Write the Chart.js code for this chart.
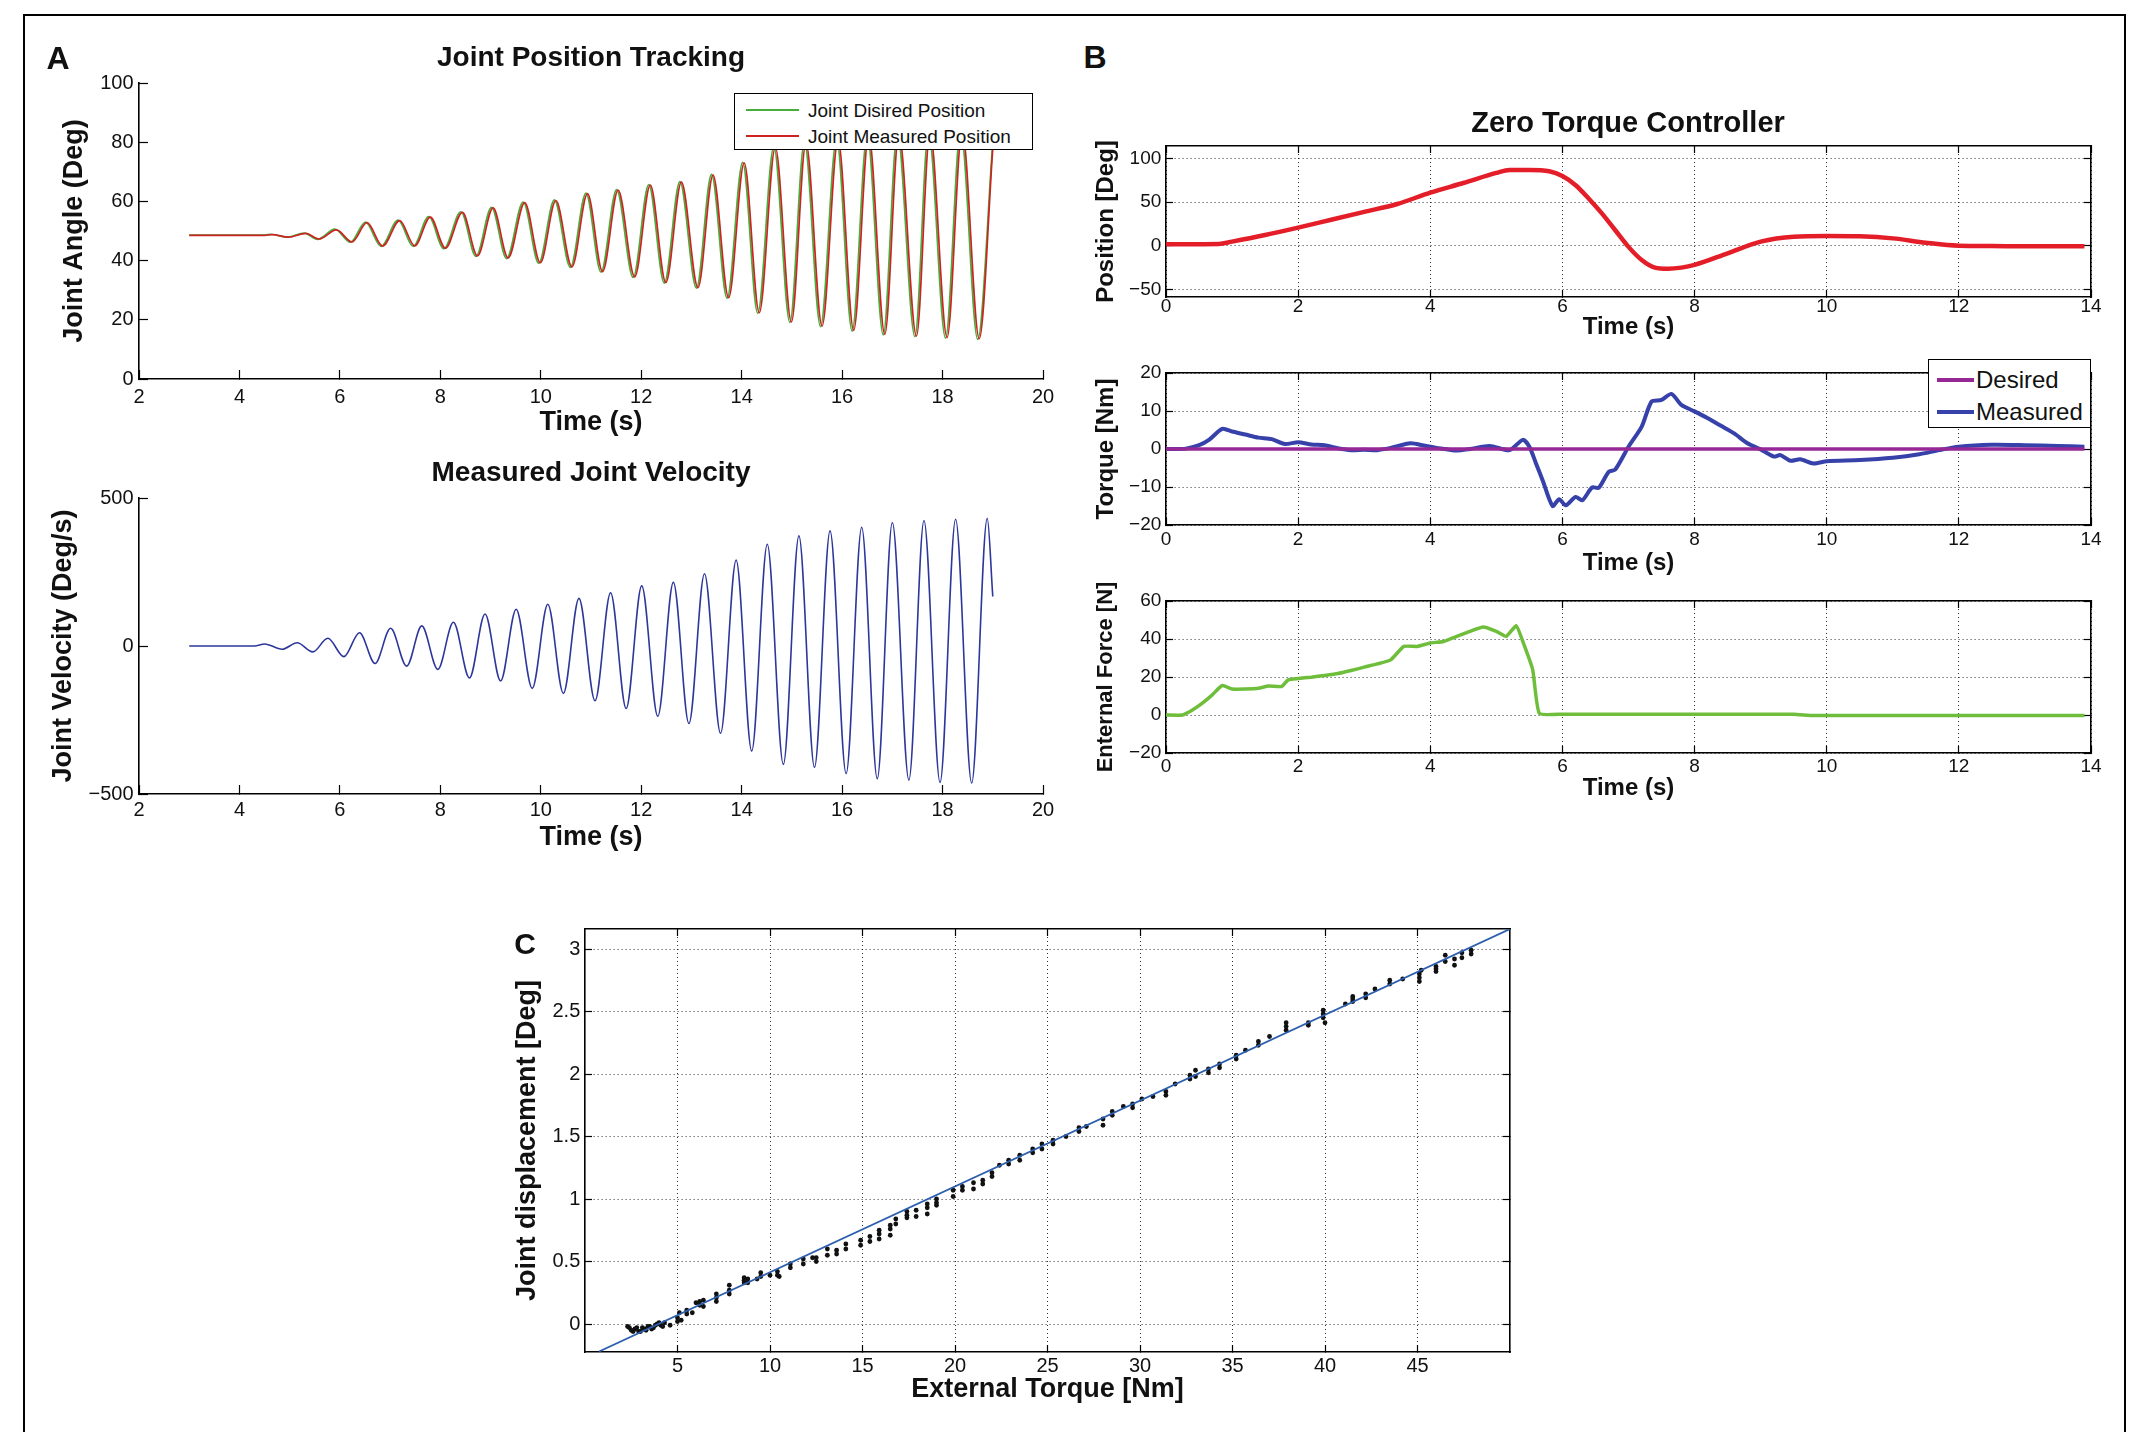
<!DOCTYPE html>
<html>
<head>
<meta charset="utf-8">
<script src="https://cdn.jsdelivr.net/npm/chart.js@4.4.1/dist/chart.umd.min.js"></script>
<style>
  html, body { margin: 0; padding: 0; background: #fff; }
  body { width: 2139px; height: 1432px; position: relative; overflow: hidden;
         font-family: "Liberation Sans", Arial, sans-serif; color: #111; }
  canvas { position: absolute; z-index: 1; }
  .frame { position: absolute; left: 23px; top: 14px; width: 2103px; height: 1500px;
           border: 2px solid #000; border-bottom: none; box-sizing: border-box; }
  .txt { position: absolute; transform: translate(-50%, -50%); white-space: nowrap;
         font-weight: bold; line-height: 1; z-index: 3; }
  .legend { position: absolute; background: #fff; border: 1.5px solid #000; z-index: 2; box-sizing: border-box; }
  .legend .sw { position: absolute; }
  .legend .lb { position: absolute; transform: translateY(-50%); white-space: nowrap; line-height: 1; }
</style>
</head>
<body>
<div class="frame"></div>

<div class="txt" style="left:58px;top:58px;font-size:32px;">A</div>
<div class="txt" style="left:591px;top:57px;font-size:28px;">Joint Position Tracking</div>
<div class="txt" style="left:591px;top:472px;font-size:28px;">Measured Joint Velocity</div>
<div class="txt" style="left:1095px;top:57px;font-size:32px;">B</div>
<div class="txt" style="left:1628px;top:122px;font-size:29px;">Zero Torque Controller</div>
<div class="txt" style="left:525px;top:944px;font-size:30px;">C</div>

<div class="legend" style="left:734px;top:93px;width:299px;height:57px;">
  <div class="sw" style="left:11px;top:15px;width:53px;height:1.5px;background:rgb(70,175,60);"></div>
  <div class="lb" style="left:73px;top:16px;font-size:19px;">Joint Disired Position</div>
  <div class="sw" style="left:11px;top:41px;width:53px;height:1.5px;background:rgb(205,35,35);"></div>
  <div class="lb" style="left:73px;top:42px;font-size:19px;">Joint Measured Position</div>
</div>

<div class="legend" style="left:1928px;top:359px;width:163px;height:69px;">
  <div class="sw" style="left:8px;top:18px;width:37px;height:4px;background:rgb(150,40,150);"></div>
  <div class="lb" style="left:47px;top:20px;font-size:24px;">Desired</div>
  <div class="sw" style="left:8px;top:50px;width:37px;height:4px;background:rgb(55,65,170);"></div>
  <div class="lb" style="left:47px;top:52px;font-size:24px;">Measured</div>
</div>

<canvas id="cPos"></canvas>
<canvas id="cVel"></canvas>
<canvas id="cBPos"></canvas>
<canvas id="cTorque"></canvas>
<canvas id="cForce"></canvas>
<canvas id="cFit"></canvas>

<script>
// ---------- A: joint position tracking (extrema) ----------
const posDesTime = [3.0, 4.5, 4.62, 4.95, 5.29, 5.56, 5.9, 6.21, 6.51, 6.82, 7.16, 7.46, 7.77, 8.07, 8.41, 8.71, 9.02, 9.32, 9.65, 9.96, 10.27, 10.59, 10.9, 11.2, 11.51, 11.84, 12.15, 12.46, 12.77, 13.1, 13.4, 13.71, 14.02, 14.32, 14.64, 14.96, 15.25, 15.57, 15.89, 16.2, 16.5, 16.82, 17.1, 17.45, 17.72, 18.06, 18.36, 18.7, 19.0];
const posDesired = [48.6, 48.6, 48.9, 47.9, 49.3, 47.2, 50.6, 46.2, 53.0, 44.8, 53.7, 44.8, 54.9, 44.0, 56.5, 41.4, 58.0, 40.7, 59.8, 39.1, 60.5, 37.7, 62.8, 36.1, 64.0, 34.3, 65.7, 32.4, 66.7, 30.7, 69.1, 27.3, 73.2, 22.2, 78.5, 19.1, 80.0, 17.7, 81.0, 16.2, 82.5, 14.9, 83.0, 14.3, 83.5, 13.8, 84.0, 13.4, 80.0];
const posMeasTime = [3.0, 4.5, 4.65, 4.98, 5.32, 5.59, 5.93, 6.24, 6.54, 6.85, 7.19, 7.49, 7.8, 8.1, 8.44, 8.74, 9.05, 9.35, 9.68, 9.99, 10.3, 10.62, 10.93, 11.23, 11.54, 11.87, 12.18, 12.49, 12.8, 13.13, 13.43, 13.74, 14.05, 14.35, 14.67, 14.99, 15.28, 15.6, 15.92, 16.23, 16.53, 16.85, 17.13, 17.48, 17.75, 18.09, 18.39, 18.73, 19.0];
const posMeasured = [48.5, 48.5, 48.8, 47.9, 49.2, 47.3, 50.4, 46.3, 52.8, 44.9, 53.5, 45.0, 54.7, 44.2, 56.3, 41.6, 57.8, 40.9, 59.6, 39.3, 60.3, 37.9, 62.6, 36.3, 63.8, 34.5, 65.5, 32.6, 66.5, 30.9, 68.9, 27.5, 73.0, 22.4, 78.3, 19.3, 79.8, 17.9, 80.8, 16.4, 82.3, 15.1, 82.8, 14.5, 83.3, 14.0, 83.8, 13.6, 78.0];

// ---------- A: measured joint velocity ----------
const velTime = [3.0, 4.3, 4.5, 4.85, 5.15, 5.46, 5.76, 6.08, 6.39, 6.70, 7.01, 7.33, 7.63, 7.95, 8.26, 8.58, 8.89, 9.20, 9.51, 9.83, 10.14, 10.45, 10.76, 11.08, 11.39, 11.70, 12.01, 12.33, 12.64, 12.95, 13.26, 13.58, 13.89, 14.20, 14.51, 14.83, 15.14, 15.45, 15.76, 16.08, 16.39, 16.70, 17.00, 17.33, 17.63, 17.95, 18.26, 18.58, 18.89, 19.0];
const velValues = [0, 0, 7, -11, 11, -20, 26, -36, 45, -59, 60, -68, 68, -79, 80, -108, 108, -118, 124, -143, 141, -160, 161, -185, 180, -211, 203, -237, 215, -262, 244, -295, 290, -355, 344, -400, 372, -410, 389, -431, 401, -448, 417, -453, 424, -461, 428, -463, 431, 167];

// ---------- B: zero torque controller ----------
const bPosTime = [0, 0.8, 1.0, 1.5, 2.0, 2.5, 3.0, 3.5, 4.0, 4.5, 5.0, 5.2, 5.5, 5.8, 6.0, 6.2, 6.4, 6.6, 6.8, 7.0, 7.2, 7.4, 7.6, 7.8, 8.0, 8.5, 9.0, 9.5, 10.0, 10.5, 11.0, 11.5, 12.0, 12.5, 13.0, 13.9];
const bPosition = [2, 2.3, 5, 12.5, 21, 30, 39, 48, 61, 72, 83.5, 87, 87, 85.5, 80, 69.5, 54, 37, 18, -1, -16, -24.7, -26, -24.7, -21.6, -8.4, 5, 10.6, 11.4, 11, 8.7, 3.8, 0.4, 0, -0.4, -0.4];

const tqTime = [0, 0.3, 0.5, 0.65, 0.85, 1.0, 1.2, 1.4, 1.6, 1.8, 2.0, 2.2, 2.4, 2.6, 2.8, 3.0, 3.2, 3.4, 3.7, 3.9, 4.1, 4.4, 4.6, 4.9, 5.2, 5.4, 5.5, 5.6, 5.7, 5.85, 5.95, 6.05, 6.2, 6.3, 6.45, 6.55, 6.7, 6.8, 7.0, 7.2, 7.35, 7.5, 7.65, 7.8, 8.0, 8.2, 8.4, 8.6, 8.8, 9.0, 9.2, 9.3, 9.45, 9.6, 9.8, 10.0, 10.5, 11.0, 11.4, 11.7, 12.0, 12.5, 13.0, 13.5, 13.9];
const tqMeasured = [0, 0.1, 1, 2.4, 5.3, 4.6, 3.8, 3, 2.6, 1.3, 1.8, 1.2, 1, 0.2, -0.3, -0.2, -0.3, 0.3, 1.5, 0.9, 0.3, -0.4, 0, 0.8, -0.3, 2.4, 0.6, -3.8, -8.2, -15, -13.2, -14.8, -12.6, -13.5, -10.1, -10.2, -6, -5.4, 0.6, 5.9, 12.5, 12.9, 14.5, 11.6, 9.9, 8.1, 6.1, 4.1, 1.5, -0.1, -2, -1.6, -3.1, -2.7, -3.8, -3.2, -2.9, -2.3, -1.4, -0.3, 0.6, 1.1, 1, 0.8, 0.6];
const tqDesTime = [0, 13.9];
const tqDesired = [0, 0];

const forceTime = [0, 0.25, 0.4, 0.55, 0.7, 0.85, 1.0, 1.2, 1.4, 1.55, 1.75, 1.85, 2.0, 2.2, 2.4, 2.6, 2.8, 3.0, 3.2, 3.4, 3.6, 3.8, 4.0, 4.2, 4.4, 4.6, 4.8, 5.0, 5.15, 5.3, 5.4, 5.55, 5.65, 6.0, 9.5, 9.8, 13.9];
const forceValues = [0, 0, 2.6, 6.2, 10.6, 15.5, 13.7, 13.7, 14.1, 15.3, 15, 18.5, 19.2, 19.9, 20.8, 21.8, 23.4, 25.2, 26.9, 29, 36.1, 36.1, 37.9, 38.7, 41.4, 44, 46.3, 44, 41.4, 47, 38.7, 23.8, 0.9, 0.4, 0.4, -0.3, -0.2];

// ---------- C: joint displacement vs external torque ----------
const dispTorque = [2.3, 2.5, 2.7, 2.9, 3.1, 3.3, 3.5, 3.7, 3.9, 4.1,
  4.3, 4.6, 5.0, 5.1, 5.2, 5.5, 5.8, 6.0, 6.2, 6.4,
  7.1, 7.1, 7.8, 7.8, 8.6, 8.6, 8.8, 9.3, 9.5, 10.0,
  10.4, 10.5, 11.1, 11.8, 11.8, 12.3, 12.5, 13.1, 13.1, 13.6,
  14.1, 14.1, 14.9, 14.9, 15.4, 15.4, 15.9, 15.9, 16.5, 16.5,
  16.8, 17.4, 17.4, 17.9, 17.9, 18.5, 18.5, 19.0, 19.0, 19.9,
  19.9, 20.4, 21.0, 21.0, 21.5, 22.0, 22.4, 22.9, 23.5, 23.5,
  24.2, 24.7, 24.7, 25.3, 26.0, 26.7, 27.1, 28.0, 28.0, 28.5,
  29.1, 29.6, 30.1, 30.7, 31.4, 31.9, 32.7, 33.0, 33.0, 33.7,
  34.3, 35.2, 35.7, 36.4, 37.0, 37.9, 37.9, 39.1, 39.9, 39.9,
  40.0, 41.1, 41.5, 41.5, 42.2, 42.7, 43.5, 44.2, 45.1, 45.1,
  45.2, 46.0, 46.0, 46.5, 47.0, 47.0, 47.4, 47.9,
  2.4, 2.6, 2.8, 3.0, 3.2, 3.4, 3.6, 3.8, 4.0, 4.2,
  5.0, 5.5, 6.2, 6.4, 7.1, 7.8, 8.6, 8.8, 9.5, 10.4,
  11.1, 12.5, 13.6, 15.9, 16.5, 16.8, 17.4, 18.5, 19.0, 20.4,
  21.5, 22.0, 22.9, 24.2, 25.3, 26.7, 28.5, 29.6, 31.4, 32.7,
  33.7, 34.3, 35.2, 36.4, 37.9, 39.1, 39.9, 41.5, 42.2, 43.5,
  45.1, 46.0, 46.5, 47.4, 47.9];
const dispAngle = [-0.02, -0.05, -0.04, -0.06, -0.03, -0.05, -0.02, -0.03, 0.00, -0.01,
  0.01, -0.01, 0.05, 0.09, 0.03, 0.11, 0.09, 0.17, 0.18, 0.14,
  0.24, 0.18, 0.31, 0.27, 0.37, 0.33, 0.36, 0.36, 0.41, 0.39,
  0.42, 0.38, 0.48, 0.52, 0.48, 0.53, 0.50, 0.60, 0.55, 0.59,
  0.64, 0.60, 0.67, 0.63, 0.70, 0.66, 0.72, 0.68, 0.76, 0.71,
  0.84, 0.90, 0.85, 0.91, 0.86, 0.93, 0.88, 1.00, 0.95, 1.07,
  1.02, 1.10, 1.13, 1.08, 1.15, 1.21, 1.27, 1.31, 1.35, 1.31,
  1.40, 1.44, 1.40, 1.47, 1.50, 1.57, 1.58, 1.64, 1.59, 1.70,
  1.74, 1.76, 1.80, 1.82, 1.86, 1.92, 1.99, 2.03, 1.98, 2.04,
  2.08, 2.15, 2.19, 2.26, 2.30, 2.41, 2.35, 2.41, 2.51, 2.45,
  2.41, 2.56, 2.62, 2.58, 2.64, 2.68, 2.75, 2.76, 2.80, 2.74,
  2.83, 2.86, 2.82, 2.95, 2.92, 2.87, 2.97, 2.99,
  -0.03, -0.06, -0.03, -0.06, -0.04, -0.02, -0.04, -0.01, 0.01, -0.02,
  0.02, 0.08, 0.15, 0.19, 0.21, 0.24, 0.35, 0.33, 0.38, 0.39,
  0.45, 0.53, 0.56, 0.75, 0.79, 0.80, 0.87, 0.96, 0.97, 1.07,
  1.12, 1.18, 1.28, 1.37, 1.44, 1.54, 1.67, 1.73, 1.83, 1.96,
  2.01, 2.05, 2.12, 2.23, 2.38, 2.39, 2.48, 2.60, 2.61, 2.72,
  2.77, 2.84, 2.90, 2.93, 2.96];
const fitTorque = [0.76, 50];
const fitAngle = [-0.22, 3.16];

// ---------- tick labels ----------
const aTimeTicks = [2, 4, 6, 8, 10, 12, 14, 16, 18, 20];
const angleTicks = [0, 20, 40, 60, 80, 100];
const velTicks = [-500, 0, 500];
const bTimeTicks = [0, 2, 4, 6, 8, 10, 12, 14];
const bPosTicks = [-50, 0, 50, 100];
const torqueTicks = [-20, -10, 0, 10, 20];
const forceTicks = [-20, 0, 20, 40, 60];
const cTorqueTicks = [5, 10, 15, 20, 25, 30, 35, 40, 45];
const cAngleTicks = [0, 0.5, 1, 1.5, 2, 2.5, 3];

const pts = (xs, ys) => xs.map((x, i) => ({ x: x, y: ys[i] }));
const fmt = (v) => (v < 0 ? "\u2212" + Math.abs(v) : String(v));

Chart.defaults.font.family = '"Liberation Sans", Arial, sans-serif';
Chart.defaults.color = "#111";

function axis(o) {
  const horiz = o.pos === "bottom" || o.pos === "top";
  const main = o.pos === "bottom" || o.pos === "left";
  const lh = o.titleSize ? o.titleSize * 1.2 : 0;
  return {
    type: "linear",
    position: o.pos,
    min: o.min,
    max: o.max,
    afterBuildTicks: (s) => { s.ticks = o.ticks.map((v) => ({ value: v })); },
    afterFit: (s) => {
      if (horiz) s.height = o.size; else s.width = o.size;
      // no label overhang: the plot box is placed by hand
      s.paddingTop = 0; s.paddingBottom = 0; s.paddingLeft = 0; s.paddingRight = 0;
    },
    border: { display: true, color: "#000", width: 1.6, dash: o.grid ? [1, 3] : [] },
    grid: {
      display: true,
      drawOnChartArea: main && !!o.grid,
      color: "rgba(0,0,0,0.8)",
      lineWidth: 1,
      tickLength: -o.tick,
      tickColor: "#000",
      tickWidth: 1.2,
    },
    ticks: {
      display: main,
      autoSkip: false,
      maxRotation: 0,
      padding: o.tickPad || 0,
      color: "#111",
      font: { size: o.tickSize || 20 },
      callback: (v) => fmt(v),
    },
    title: {
      display: !!o.title,
      text: o.title || "",
      color: "#111",
      font: { size: o.titleSize || 12, weight: "bold", lineHeight: 1.2 },
      padding: horiz ? { top: 0, bottom: o.titleAt - lh / 2 } : { top: o.titleAt - lh / 2, bottom: 0 },
    },
  };
}

function plot(id, area, pad, datasets, scales, type) {
  const cv = document.getElementById(id);
  const w = area[2] - area[0] + pad[0] + pad[2];
  const h = area[3] - area[1] + pad[1] + pad[3];
  cv.width = w;
  cv.height = h;
  cv.style.left = area[0] - pad[0] + "px";
  cv.style.top = area[1] - pad[1] + "px";
  cv.style.width = w + "px";
  cv.style.height = h + "px";
  const boxed = !!scales.x2;
  return new Chart(cv, {
    type: type || "line",
    data: { datasets: datasets },
    options: {
      responsive: false,
      animation: false,
      devicePixelRatio: 1,
      layout: { padding: boxed ? 0 : { left: 0, top: pad[1], right: pad[2], bottom: 0 } },
      plugins: { legend: { display: false }, tooltip: { enabled: false } },
      elements: { point: { radius: 0 } },
      scales: scales,
    },
  });
}

function line(data, color, width, smooth, tension) {
  return {
    data: data,
    borderColor: color,
    backgroundColor: color,
    borderWidth: width,
    pointRadius: 0,
    fill: false,
    cubicInterpolationMode: smooth ? "monotone" : "default",
    tension: smooth ? 0.4 : (tension || 0),
    xAxisID: "x",
    yAxisID: "y",
  };
}

// A top
plot("cPos", [139, 83, 1043, 379], [131, 12, 20, 75], [
  line(pts(posMeasTime, posMeasured), "rgb(205,35,35)", 1.7, true),
  line(pts(posDesTime, posDesired), "rgb(70,175,60)", 1.7, true),
], {
  x: axis({ pos: "bottom", min: 2, max: 20, ticks: aTimeTicks, size: 75, tick: 9, tickPad: 15,
            title: "Time (s)", titleSize: 27, titleAt: 31 }),
  y: axis({ pos: "left", min: 0, max: 100, ticks: angleTicks, size: 131, tick: 9, tickPad: 14.5,
            title: "Joint Angle (Deg)", titleSize: 27, titleAt: 67 }),
});

// A bottom
plot("cVel", [139, 498, 1043, 794], [131, 12, 20, 75], [
  line(pts(velTime, velValues), "rgb(45,55,155)", 1.6, true),
], {
  x: axis({ pos: "bottom", min: 2, max: 20, ticks: aTimeTicks, size: 75, tick: 9, tickPad: 13,
            title: "Time (s)", titleSize: 27, titleAt: 31 }),
  y: axis({ pos: "left", min: -500, max: 500, ticks: velTicks, size: 131, tick: 9, tickPad: 14.5,
            title: "Joint Velocity (Deg/s)", titleSize: 27, titleAt: 56 }),
});

function boxScales(o) {
  return {
    x: axis({ pos: "bottom", min: o.xmin, max: o.xmax, ticks: o.xticks, size: o.pad[3], tick: 7,
              tickPad: o.xTickPad, tickSize: o.tickSize, grid: true,
              title: o.xtitle, titleSize: o.xtitleSize, titleAt: o.xtitleAt }),
    y: axis({ pos: "left", min: o.ymin, max: o.ymax, ticks: o.yticks, size: o.pad[0], tick: 7,
              tickPad: 11.7, tickSize: o.tickSize, grid: true,
              title: o.ytitle, titleSize: o.ytitleSize, titleAt: o.ytitleAt }),
    x2: axis({ pos: "top", min: o.xmin, max: o.xmax, ticks: o.xticks, size: o.pad[1], tick: 7 }),
    y2: axis({ pos: "right", min: o.ymin, max: o.ymax, ticks: o.yticks, size: o.pad[2], tick: 7 }),
  };
}

// B position
const padB = [100, 10, 20, 60];
plot("cBPos", [1166, 146, 2091, 297], padB, [
  line(pts(bPosTime, bPosition), "rgb(228,30,40)", 4.5, true),
], boxScales({ pad: padB, xmin: 0, xmax: 14, xticks: bTimeTicks, ymin: -58.3, ymax: 114.3, yticks: bPosTicks,
               tickSize: 19, xTickPad: 5, xtitle: "Time (s)", xtitleSize: 24, xtitleAt: 30,
               ytitle: "Position [Deg]", ytitleSize: 24, ytitleAt: 40 }));

// B torque
plot("cTorque", [1166, 373, 2091, 525], padB, [
  line(pts(tqDesTime, tqDesired), "rgb(150,40,150)", 3.5, false),
  line(pts(tqTime, tqMeasured), "rgb(55,65,170)", 4, false, 0.25),
], boxScales({ pad: padB, xmin: 0, xmax: 14, xticks: bTimeTicks, ymin: -20, ymax: 20, yticks: torqueTicks,
               tickSize: 19, xTickPad: 10, xtitle: "Time (s)", xtitleSize: 24, xtitleAt: 22,
               ytitle: "Torque [Nm]", ytitleSize: 24, ytitleAt: 40 }));

// B external force (taller top margin so the long axis title is not cut)
const padF = [100, 40, 20, 60];
plot("cForce", [1166, 601, 2091, 753], padF, [
  line(pts(forceTime, forceValues), "rgb(110,190,60)", 3.5, false, 0.15),
], boxScales({ pad: padF, xmin: 0, xmax: 14, xticks: bTimeTicks, ymin: -20, ymax: 60, yticks: forceTicks,
               tickSize: 19, xTickPad: 9, xtitle: "Time (s)", xtitleSize: 24, xtitleAt: 25,
               ytitle: "Enternal Force [N]", ytitleSize: 22, ytitleAt: 40 }));

// C fit
const padC = [90, 10, 20, 70];
plot("cFit", [585, 929, 1510, 1352], padC, [
  {
    data: pts(fitTorque, fitAngle), showLine: true, borderColor: "rgb(45,95,175)", borderWidth: 1.8,
    pointRadius: 0, fill: false, xAxisID: "x", yAxisID: "y",
  },
  {
    data: pts(dispTorque, dispAngle), showLine: false, pointRadius: 2.4, pointStyle: "circle",
    backgroundColor: "#111", borderColor: "#111", borderWidth: 0, xAxisID: "x", yAxisID: "y",
  },
], boxScales({ pad: padC, xmin: 0, xmax: 50, xticks: cTorqueTicks, ymin: -0.224, ymax: 3.16, yticks: cAngleTicks,
               tickSize: 20, xTickPad: 9.4, xtitle: "External Torque [Nm]", xtitleSize: 27, xtitleAt: 32,
               ytitle: "Joint displacement [Deg]", ytitleSize: 27, ytitleAt: 33 }), "scatter");
</script>
</body>
</html>
